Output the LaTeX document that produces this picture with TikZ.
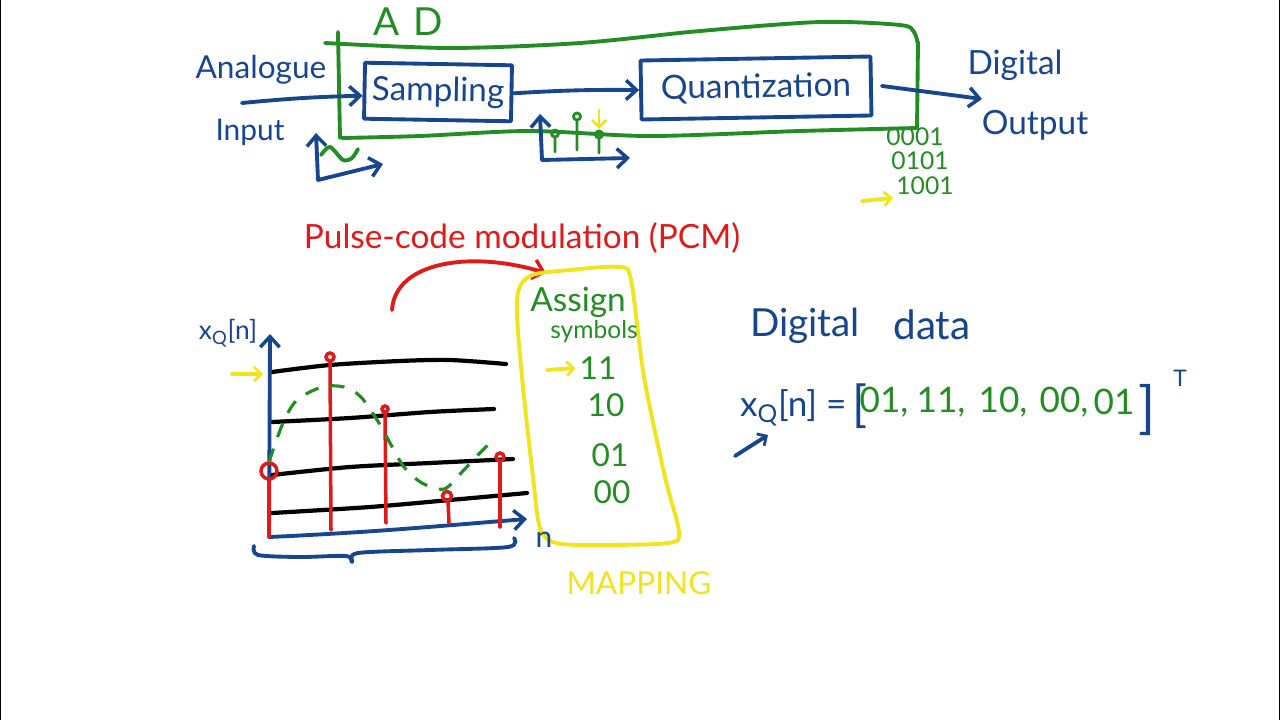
\documentclass[tikz,border=0pt]{standalone}
\usepackage{fontspec}
\setmainfont{Lato}
\usetikzlibrary{arrows.meta}
\definecolor{pblue}{RGB}{24,70,140}
\definecolor{pgreen}{RGB}{36,140,36}
\definecolor{pred}{RGB}{222,26,26}
\definecolor{pyellow}{RGB}{240,228,30}
\newcommand{\fs}[1]{\fontsize{#1}{#1}\selectfont}
\begin{document}
\begin{tikzpicture}[x=0.02cm,y=-0.02cm,
  pen/.style={line width=2.2pt,line cap=round,line join=round},
  thinpen/.style={line width=1.6pt,line cap=round,line join=round},
  barb/.style={-{Straight Barb[length=6pt,width=11pt,line width=2pt]}},
  smallbarb/.style={-{Straight Barb[length=4pt,width=8pt,line width=1.6pt]}},
  txt/.style={inner sep=0pt,outer sep=0pt},
  blocknode/.style={draw=pblue,pen,text=pblue,font=\fs{19},inner sep=0pt},
  bluetxt/.style={txt,text=pblue,font=\fs{19}},
  greentxt/.style={txt,text=pgreen,font=\fs{17}},
  levelline/.style={line width=2.4pt,line cap=round,black},
  stem/.style={line width=2pt,line cap=round,pred},
]
\useasboundingbox (0,0) rectangle (1280,720);
\fill[white] (0,0) rectangle (1280,720);
\draw[line width=1pt,black] (0.5,0) -- (0.5,720);
\draw[line width=1pt,black] (1279.5,0) -- (1279.5,720);

% ---------------- top: AD converter ----------------
\node[txt,text=pgreen,font=\fs{22}] (ad) at (408,22) {A\hspace{0.35em}D};
\draw[pen,pgreen] plot[smooth] coordinates {(325,43) (450,48) (580,43) (700,31) (820,22) (900,25) (914,32) (918,45)};
\draw[pen,pgreen] (918,42) -- (917,128);
\draw[pen,pgreen] plot[smooth] coordinates {(917,128) (800,131) (650,136) (530,131) (420,136) (342,138)};
\draw[pen,pgreen] (338,32) -- (340,138);

\node[blocknode,minimum width=2.94cm,minimum height=1.12cm,rotate=-1] (samp) at (438,92) {Sampling};
\node[blocknode,minimum width=4.6cm,minimum height=1.18cm,rotate=1] (quant) at (756,88) {Quantization};

\node[bluetxt,font=\fs{18}] (ain) at (261,70) {Analogue};
\node[bluetxt,font=\fs{17}] (inp) at (250,132) {Input};
\node[bluetxt] (dig) at (1015,65) {Digital};
\node[bluetxt] (outp) at (1035,125) {Output};

\coordinate (inS) at (242,103);
\coordinate (outE) at (982,99);
\draw[pen,pblue,barb] (inS) to[bend left=2] ([yshift=-0.1cm]samp.west);
\draw[pen,pblue,barb] (samp.east) to[bend left=2] (quant.west);
\draw[pen,pblue,barb] ([xshift=0.18cm]quant.east) -- (outE);

% analogue signal icon
\draw[pen,pblue,barb] (318,180) -- (316,133);
\draw[pen,pblue,barb] (318,180) -- (383,164);
\draw[pen,pgreen] plot[smooth] coordinates {(321,155) (330,147) (343,160) (352,158) (358,149)};

% sampled signal icon
\draw[pen,pblue,barb] (542,160) -- (540,114);
\draw[pen,pblue,barb] (542,160) -- (630,158);
\draw[thinpen,pgreen] (555,152) -- (555,137) (555,133.5) circle[radius=3.5];
\draw[thinpen,pgreen] (577,150) -- (577,120) (577,116.5) circle[radius=3.5];
\draw[thinpen,pgreen] (599,153) -- (599,138) (599,134.5) circle[radius=3.5];
\draw[thinpen,pyellow,smallbarb] (599,110) -- (599,129);

% binary words
\node[greentxt,font=\fs{14}] (b1) at (915,137) {0001};
\node[greentxt,font=\fs{14}] (b2) at (920,161) {0101};
\node[greentxt,font=\fs{14}] (b3) at (925,186) {1001};
\coordinate (ya1) at (862,201);
\coordinate (ya1e) at (893,198);
\draw[pen,pyellow,smallbarb] (ya1) -- (ya1e);

% ---------------- PCM ----------------
\node[txt,text=pred,font=\fs{19}] (pcm) at (522,238) {Pulse-code modulation (PCM)};
\coordinate (arcS) at (392,310);
\coordinate (arcE) at (546,273);
\draw[pen,pred,barb] (arcS) .. controls (395,262) and (470,250) .. (arcE);

% mapping box
\draw[pen,pyellow] plot[smooth cycle] coordinates {(517,300) (530,276) (570,270) (619,267) (631,280) (644,377) (665,477) (679,532) (668,543) (600,545) (556,543) (540,528) (533,477) (522,377)};
\node[greentxt,font=\fs{19}] (assign) at (578,302) {Assign};
\node[greentxt,font=\fs{14}] (symb) at (594,332) {symbols};
\node[greentxt,font=\fs{18}] (s11) at (598,368) {11};
\node[greentxt,font=\fs{18}] (s10) at (606,405) {10};
\node[greentxt,font=\fs{18}] (s01) at (610,455) {01};
\node[greentxt,font=\fs{18}] (s00) at (612,492) {00};
\coordinate (ya2) at (547,370);
\draw[pen,pyellow,smallbarb] (ya2) -- ([xshift=-0.08cm]s11.west);
\node[txt,text=pyellow,font=\fs{18}] (mapping) at (639,583) {MAPPING};

% graph
\draw[levelline] plot[smooth] coordinates {(272,372) (330,365) (400,361) (450,360) (506,364)};
\draw[levelline] plot[smooth] coordinates {(272,422) (350,418) (430,412) (494,409)};
\draw[levelline] plot[smooth] coordinates {(272,475) (350,467) (430,463) (513,459)};
\draw[levelline] plot[smooth] coordinates {(272,513) (370,507) (450,500) (527,493)};
\draw[pen,pblue,barb] (269,537) -- (270,334);
\draw[pen,pblue,barb] (269,537) .. controls (380,532) and (450,525) .. (527,519);
\node[txt,text=pblue,font=\fs{15}] (xq) at (228,333) {x\textsubscript{Q}[n]};
\node[txt,text=pblue,font=\fs{17}] (nlab) at (544,540) {n};
\coordinate (ya3) at (232,374);
\draw[pen,pyellow,smallbarb] (ya3) -- (263,374);

\draw[stem] (269,480) -- (269,537);
\draw[stem] (269,471) circle[radius=8];
\draw[stem] (330,361) -- (331,530);
\draw[stem] (330,357) circle[radius=4];
\draw[stem] (385,412) -- (386,523);
\draw[stem] (385,409) circle[radius=3];
\draw[stem] (448,501) -- (449,523);
\draw[stem] (447,496) circle[radius=4.5];
\draw[stem] (500,461) -- (500,527);
\draw[stem] (500,457) circle[radius=4];

\draw[line width=1.8pt,pgreen,dash pattern=on 8pt off 7pt] plot[smooth] coordinates {(269,462) (283,423) (297,400) (322,387) (344,387) (361,397) (379,423) (390,443) (404,467) (422,483) (444,489) (461,473) (476,457) (490,443)};

% brace
\draw[pen,pblue] plot[smooth] coordinates {(254,546) (258,555) (300,557) (346,556) (352,562)};
\draw[pen,pblue] plot[smooth] coordinates {(352,562) (358,553) (430,550) (508,547) (514,538)};

% ---------------- digital data ----------------
\node[bluetxt,font=\fs{22}] (ddig) at (805,326) {Digital};
\node[bluetxt,font=\fs{23}] (ddat) at (932,325) {data};
\node[txt,text=pblue,font=\fs{20},anchor=west] (xqn) at (740,408) {x\textsubscript{Q}[n] =};
\node[txt,text=pblue,font=\fs{28}] (lb) at (860,406) {[};
\node[greentxt,font=\fs{20}] (v1) at (884,402) {01,};
\node[greentxt,font=\fs{20}] (v2) at (941,402) {11,};
\node[greentxt,font=\fs{20}] (v3) at (1003,402) {10,};
\node[greentxt,font=\fs{20}] (v4) at (1064,402) {00,};
\node[greentxt,font=\fs{20}] (v5) at (1114,402) {01};
\node[txt,text=pblue,font=\fs{32}] (rb) at (1147,410) {]};
\node[txt,text=pblue,font=\fs{13}] (tsup) at (1180,378) {T};
\coordinate (pa) at (735,456);
\coordinate (pb) at (768,435);
\draw[pen,pblue,smallbarb] (pa) -- (pb);
\end{tikzpicture}
\end{document}
